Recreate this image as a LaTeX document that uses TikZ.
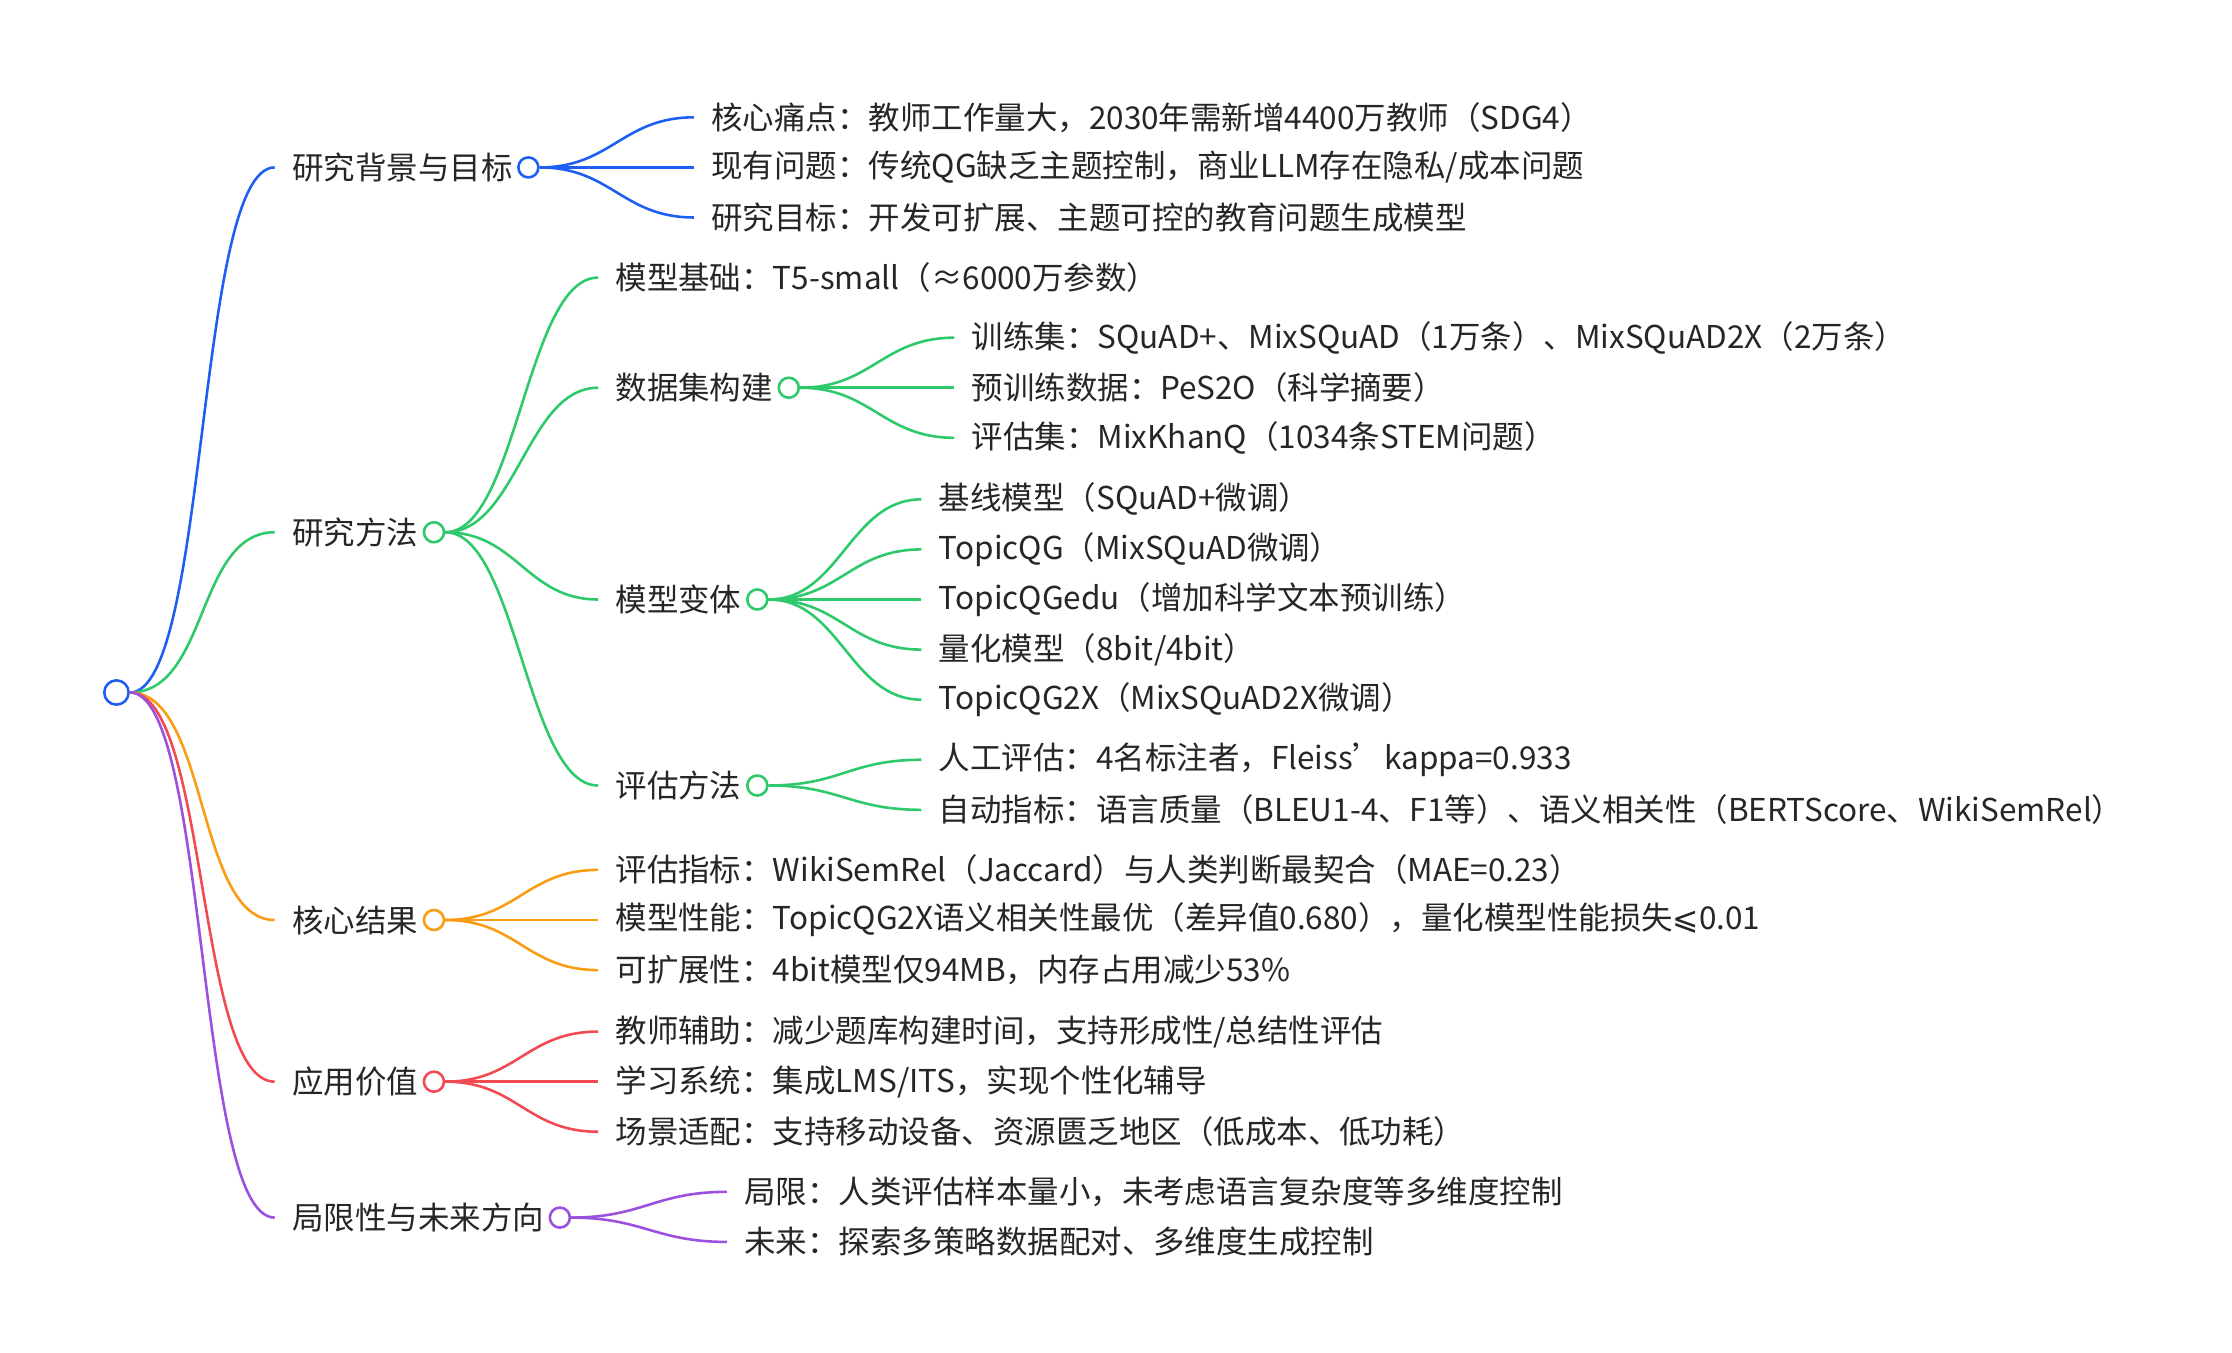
\documentclass[tikz,border=0pt]{standalone}
\usepackage{fontspec}
\setmainfont{Noto Sans CJK SC}
\newfontfamily\djv{DejaVu Sans}
\definecolor{cb}{HTML}{1F5EF2}
\definecolor{cg}{HTML}{2DC96A}
\definecolor{co}{HTML}{FA9C14}
\definecolor{cr}{HTML}{F24A52}
\definecolor{cp}{HTML}{9B50E0}
\begin{document}
\begin{tikzpicture}[x=1pt,y=-1pt,
  lab/.style={anchor=west,inner xsep=12,inner ysep=2,font=\fontsize{22}{26}\selectfont,text=black!85},
  dot/.style={circle,draw,line width=1.8,minimum size=14,inner sep=0,fill=white,anchor=west},
  ln/.style={line width=1.8,out=0,in=180,distance=50},
  rl/.style={line width=1.8,out=0,in=180,distance=55}]
\useasboundingbox[fill=white] (0,0) rectangle (1560,945);
\node[dot,draw=cb,minimum size=17] (root) at (72,484) {};
% level 1
\node[lab] (a1) at (192,117) {研究背景与目标};
\node[dot,draw=cb] (a1c) at ([xshift=-9]a1.east) {};
\node[lab] (a2) at (192,372) {研究方法};
\node[dot,draw=cg] (a2c) at ([xshift=-9]a2.east) {};
\node[lab] (a3) at (192,643) {核心结果};
\node[dot,draw=co] (a3c) at ([xshift=-9]a3.east) {};
\node[lab] (a4) at (192,756) {应用价值};
\node[dot,draw=cr] (a4c) at ([xshift=-9]a4.east) {};
\node[lab] (a5) at (192,851) {局限性与未来方向};
\node[dot,draw=cp] (a5c) at ([xshift=-9]a5.east) {};
\draw[rl,cb] (root.east) to (a1.west);
\draw[rl,cg] (root.east) to (a2.west);
\draw[rl,co] (root.east) to (a3.west);
\draw[rl,cr] (root.east) to (a4.west);
\draw[rl,cp] (root.east) to (a5.west);
% branch 1
\node[lab] (b1) at (485,82) {核心痛点：教师工作量大，2030年需新增4400万教师（SDG4）};
\node[lab] (b2) at (485,117) {现有问题：传统QG缺乏主题控制，商业LLM存在隐私/成本问题};
\node[lab] (b3) at (485,152) {研究目标：开发可扩展、主题可控的教育问题生成模型};
\foreach \n in {b1,b2,b3} \draw[ln,cb] (a1c.east) to (\n.west);
% branch 2
\node[lab] (c1) at (418,194) {模型基础：T5-small（≈6000万参数）};
\node[lab] (c2) at (418,271) {数据集构建};
\node[dot,draw=cg] (c2c) at ([xshift=-9]c2.east) {};
\node[lab] (c3) at (418,419) {模型变体};
\node[dot,draw=cg] (c3c) at ([xshift=-9]c3.east) {};
\node[lab] (c4) at (418,549) {评估方法};
\node[dot,draw=cg] (c4c) at ([xshift=-9]c4.east) {};
\foreach \n in {c1,c2,c3,c4} \draw[ln,cg] (a2c.east) to (\n.west);
\node[lab] (d1) at (667,236) {训练集：SQuAD+、MixSQuAD（1万条）、MixSQuAD2X（2万条）};
\node[lab] (d2) at (667,271) {预训练数据：PeS2O（科学摘要）};
\node[lab] (d3) at (667,306) {评估集：MixKhanQ（1034条STEM问题）};
\foreach \n in {d1,d2,d3} \draw[ln,cg] (c2c.east) to (\n.west);
\node[lab] (e1) at (644,349) {基线模型（SQuAD+微调）};
\node[lab] (e2) at (644,384) {TopicQG（MixSQuAD微调）};
\node[lab] (e3) at (644,419) {TopicQGedu（增加科学文本预训练）};
\node[lab] (e4) at (644,454) {量化模型（8bit/4bit）};
\node[lab] (e5) at (644,489) {TopicQG2X（MixSQuAD2X微调）};
\foreach \n in {e1,e2,e3,e4,e5} \draw[ln,cg] (c3c.east) to (\n.west);
\node[lab] (f1) at (644,531) {人工评估：4名标注者，Fleiss’kappa=0.933};
\node[lab] (f2) at (644,566) {自动指标：语言质量（BLEU1-4、F1等）、语义相关性（BERTScore、WikiSemRel）};
\foreach \n in {f1,f2} \draw[ln,cg] (c4c.east) to (\n.west);
% branch 3
\node[lab] (g1) at (418,608) {评估指标：WikiSemRel（Jaccard）与人类判断最契合（MAE=0.23）};
\node[lab] (g2) at (418,643) {模型性能：TopicQG2X语义相关性最优（差异值0.680），量化模型性能损失{\djv ⩽}0.01};
\node[lab] (g3) at (418,678) {可扩展性：4bit模型仅94MB，内存占用减少53\%};
\foreach \n in {g1,g2,g3} \draw[ln,co] (a3c.east) to (\n.west);
% branch 4
\node[lab] (h1) at (418,721) {教师辅助：减少题库构建时间，支持形成性/总结性评估};
\node[lab] (h2) at (418,756) {学习系统：集成LMS/ITS，实现个性化辅导};
\node[lab] (h3) at (418,791) {场景适配：支持移动设备、资源匮乏地区（低成本、低功耗）};
\foreach \n in {h1,h2,h3} \draw[ln,cr] (a4c.east) to (\n.west);
% branch 5
\node[lab] (i1) at (508,833) {局限：人类评估样本量小，未考虑语言复杂度等多维度控制};
\node[lab] (i2) at (508,868) {未来：探索多策略数据配对、多维度生成控制};
\foreach \n in {i1,i2} \draw[ln,cp] (a5c.east) to (\n.west);
\end{tikzpicture}
\end{document}
